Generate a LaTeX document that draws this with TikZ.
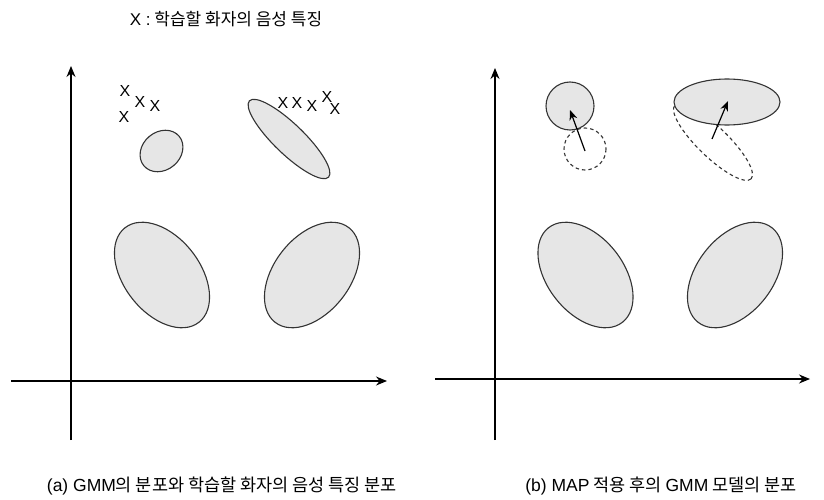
\documentclass[tikz,border=0pt]{standalone}
\usepackage{fontspec}
\setmainfont{Noto Sans CJK KR}
\newfontfamily\lat{Liberation Sans}
\usetikzlibrary{arrows.meta}
\definecolor{efill}{HTML}{E6E6E6}
\definecolor{estroke}{HTML}{333333}
\tikzset{
  axis/.style={line width=1.3pt,-{Stealth[length=11pt,width=9pt]}},
  blob/.style={fill=efill,draw=estroke,line width=1.1pt},
  ghost/.style={draw=estroke,line width=1.1pt,dash pattern=on 3.5pt off 3pt},
  moveto/.style={line width=1.2pt,-{Stealth[length=10pt,width=8pt]}},
  xmark/.style={font=\lat\fontsize{16}{16}\selectfont,inner sep=0pt},
  lbl/.style={inner sep=0pt},
}
\begin{document}
\begin{tikzpicture}[x=1pt,y=-1pt]
\useasboundingbox (0,0) rectangle (824,500);
% title
\node[lbl,font=\fontsize{17}{17}\selectfont] (title) at (226,19) {{\lat X :} 학습할 화자의 음성 특징};
% ---- left panel axes
\coordinate (a0) at (71,440);
\coordinate (a1) at (71,66);
\coordinate (b0) at (11,381);
\coordinate (b1) at (387,381);
\draw[axis] (a0) -- (a1);
\draw[axis] (b0) -- (b1);
% left panel ellipses
\draw[blob] (161.5,151) ellipse[x radius=23,y radius=19,rotate=40];
\draw[blob] (289,139) ellipse[x radius=55,y radius=15,rotate=-44];
\draw[blob] (162,275) ellipse[x radius=60,y radius=38,rotate=-52];
\draw[blob] (312,275) ellipse[x radius=60,y radius=38,rotate=52];
% X marks
\node[xmark] (x1) at (125,91) {X};
\node[xmark] (x2) at (140,102) {X};
\node[xmark] (x3) at (155,106) {X};
\node[xmark] (x4) at (124,117) {X};
\node[xmark] (x5) at (283,103) {X};
\node[xmark] (x6) at (297,103) {X};
\node[xmark] (x7) at (312,106) {X};
\node[xmark] (x8) at (327,97) {X};
\node[xmark] (x9) at (335,109) {X};
% ---- right panel axes
\coordinate (c0) at (495,440);
\coordinate (c1) at (495,68);
\coordinate (d0) at (435,379);
\coordinate (d1) at (810,379);
\draw[axis] (c0) -- (c1);
\draw[axis] (d0) -- (d1);
% right panel ellipses
\draw[blob] (585.5,275) ellipse[x radius=60,y radius=38,rotate=-52];
\draw[blob] (735,275) ellipse[x radius=60,y radius=38,rotate=52];
\draw[ghost] (585,149) circle[radius=21];
\draw[blob] (570,106) circle[radius=24];
\draw[ghost] (713,142) ellipse[x radius=53,y radius=15,rotate=-44];
\draw[blob] (727,102) ellipse[x radius=53,y radius=23];
% shift arrows
\coordinate (s1) at (585,151);
\coordinate (t1) at (570,110);
\coordinate (s2) at (712,139);
\coordinate (t2) at (728,101);
\draw[moveto] (s1) -- (t1);
\draw[moveto] (s2) -- (t2);
% captions
\node[lbl,font=\fontsize{17.5}{17.5}\selectfont] (capa) at (222,486) {{\lat (a) GMM}의 분포와 학습할 화자의 음성 특징 분포};
\node[lbl,font=\fontsize{17.5}{17.5}\selectfont] (capb) at (661,486) {{\lat (b) MAP} 적용 후의 {\lat GMM} 모델의 분포};
\end{tikzpicture}
\end{document}
